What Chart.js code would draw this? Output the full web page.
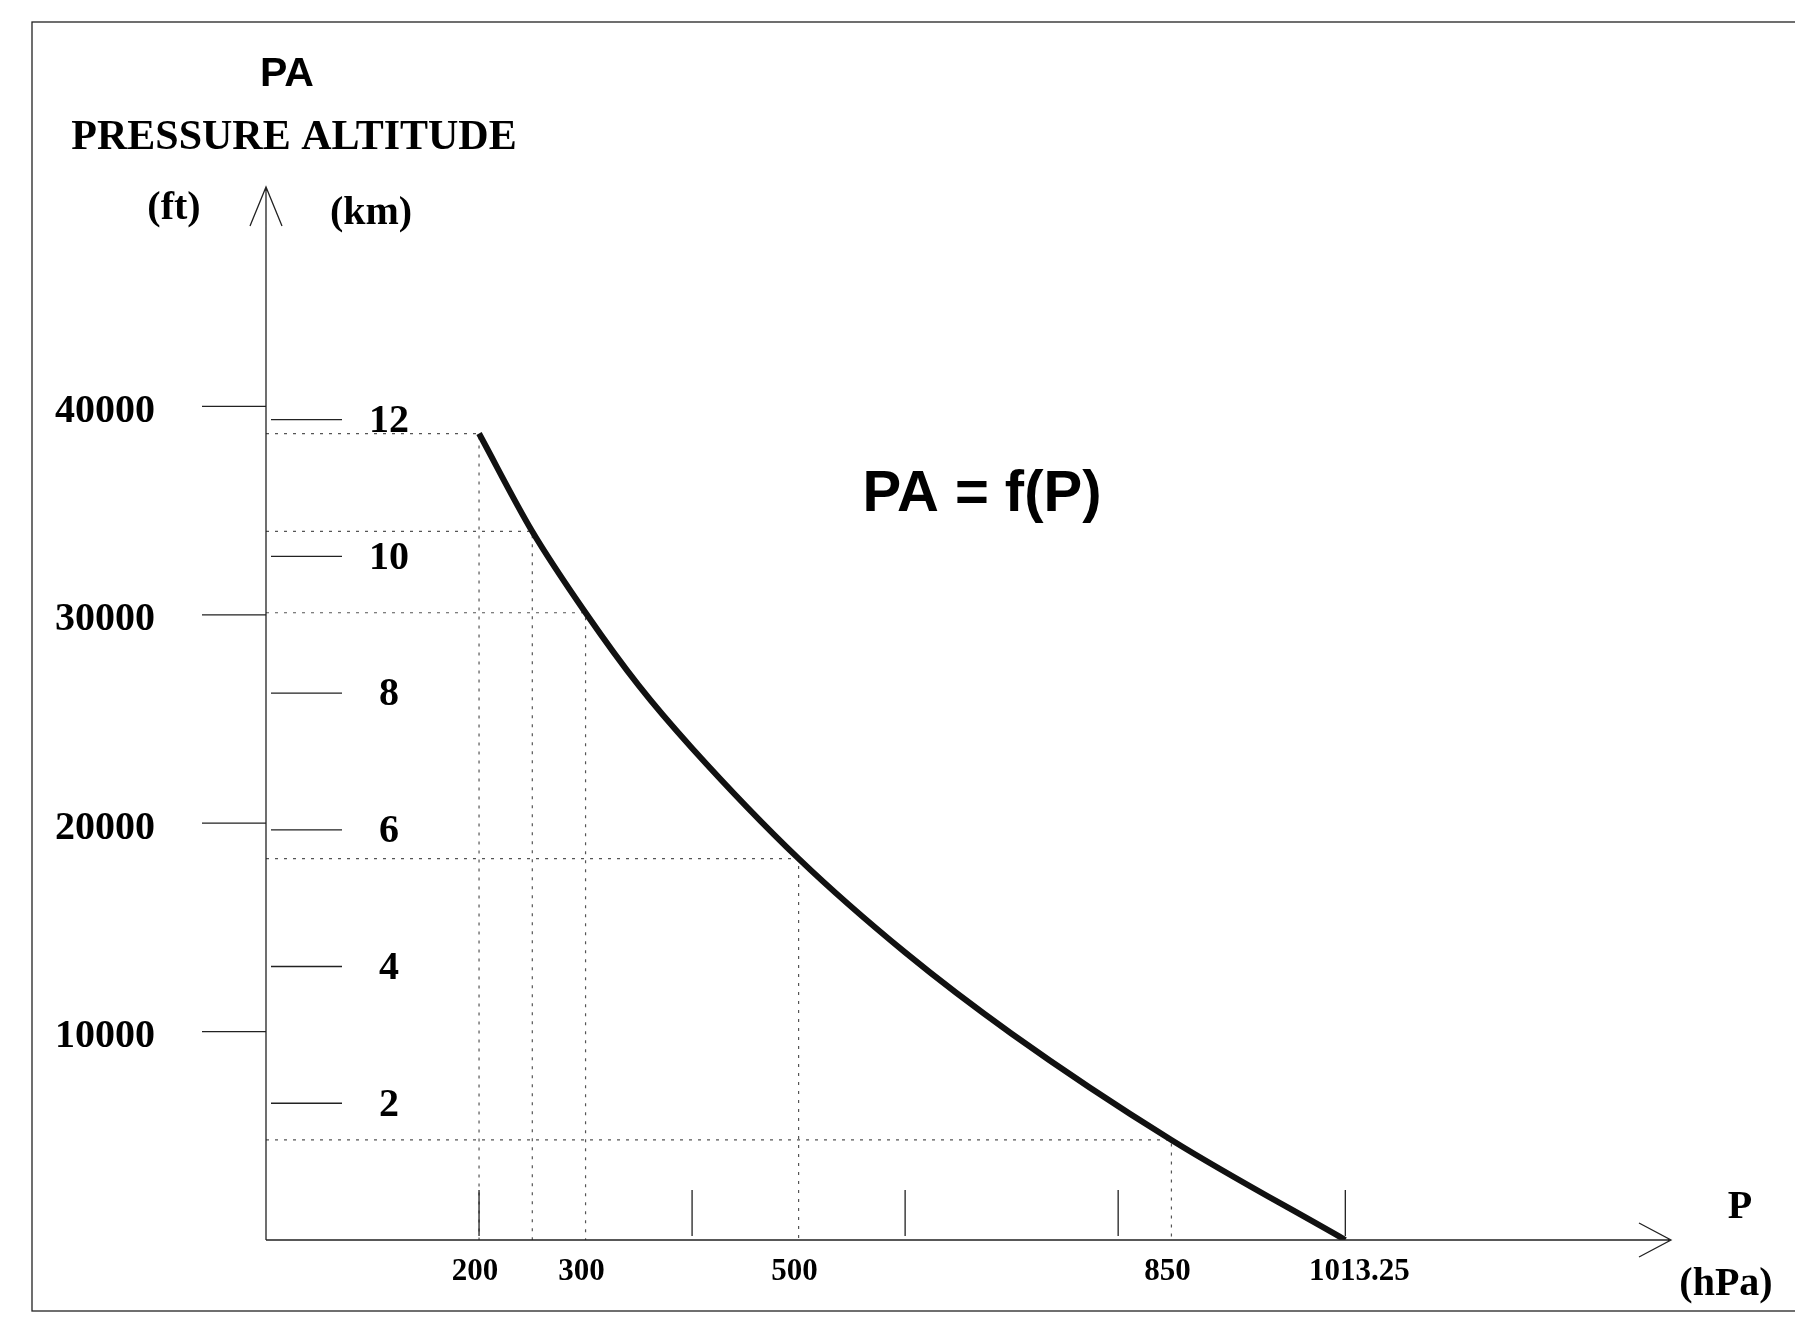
<!DOCTYPE html>
<html>
<head>
<meta charset="utf-8">
<script src="https://cdn.jsdelivr.net/npm/chart.js@4"></script>
<style>
  html, body { margin: 0; padding: 0; background: #fff; }
  #wrap { width: 1795px; height: 1320px; position: relative; }
</style>
</head>
<body>
<div id="wrap"><canvas id="chart" width="1795" height="1320"></canvas></div>
<script>
// --- data ---
const pressureHpa = [200, 250, 300, 350, 400, 500, 600, 700, 850, 1013.25];
const altitudeFt  = [38700, 34000, 30100, 26600, 23600, 18300, 13800, 9900, 4800, 0];

// dashed guides: pressure level + altitude where they meet the curve
const guidePressure = [200, 250, 300, 500, 850];
const guideAltitude = [38700, 34000, 30100, 18300, 4800];

const ftTicks = [10000, 20000, 30000, 40000];
const kmTicks = [2, 4, 6, 8, 10, 12];
const pTicks = [200, 400, 600, 800, 1013.25];
const pLabels = ['200', '300', '500', '850', '1013.25'];
const pLabelValues = [200, 300, 500, 850, 1013.25];

const FT_PER_KM = 3280.84;
const SERIF = '"Liberation Serif", "DejaVu Serif", serif';
const SANS = '"Liberation Sans", Arial, sans-serif';

const guideSets = guidePressure.map((p, i) => ({
    data: [{ x: 0, y: guideAltitude[i] }, { x: p, y: guideAltitude[i] }, { x: p, y: 0 }],
    borderColor: '#555', borderWidth: 1.2, borderDash: [3, 6],
    pointRadius: 0, showLine: true, fill: false, tension: 0
}));

// --- drawing of the hand-made axes, ticks and labels ---
const diagramPlugin = {
    id: 'diagram',
    afterDatasetsDraw(chart) {
        const { ctx, scales: { x, y } } = chart;
        const x0 = x.getPixelForValue(0);
        const y0 = y.getPixelForValue(0);
        const xEnd = x.getPixelForValue(x.max);
        const yTop = y.getPixelForValue(y.max);
        ctx.save();
        ctx.strokeStyle = '#222';
        ctx.fillStyle = '#000';
        ctx.lineWidth = 1.3;

        // frame
        ctx.strokeRect(32, 22, 1795, 1289);

        // axes + open arrows
        ctx.beginPath();
        ctx.moveTo(x0, y0); ctx.lineTo(x0, yTop);
        ctx.moveTo(x0 - 16, yTop + 39); ctx.lineTo(x0, yTop); ctx.lineTo(x0 + 16, yTop + 39);
        ctx.moveTo(x0, y0); ctx.lineTo(xEnd, y0);
        ctx.moveTo(xEnd - 32, y0 - 17); ctx.lineTo(xEnd, y0); ctx.lineTo(xEnd - 32, y0 + 17);
        ctx.stroke();

        // ft ticks (left), km ticks (right)
        ctx.beginPath();
        ftTicks.forEach(v => {
            const py = y.getPixelForValue(v);
            ctx.moveTo(x0 - 64, py); ctx.lineTo(x0, py);
        });
        kmTicks.forEach(v => {
            const py = y.getPixelForValue(v * FT_PER_KM);
            ctx.moveTo(x0 + 5, py); ctx.lineTo(x0 + 76, py);
        });
        pTicks.forEach(v => {
            const px = x.getPixelForValue(v);
            ctx.moveTo(px, y0 - 4); ctx.lineTo(px, y0 - 50);
        });
        ctx.stroke();

        ctx.textAlign = 'center';
        ctx.textBaseline = 'middle';
        ctx.font = `bold 40px ${SERIF}`;
        ftTicks.forEach(v => ctx.fillText(String(v), 105, y.getPixelForValue(v) + 5));
        kmTicks.forEach(v => ctx.fillText(String(v), 389, y.getPixelForValue(v * FT_PER_KM) + 2));

        ctx.font = `bold 31px ${SERIF}`;
        pLabelValues.forEach((v, i) => {
            let px = x.getPixelForValue(v);
            if (v > 1000) px += 18;
            ctx.fillText(pLabels[i], px - 4, y0 + 32);
        });

        // titles
        ctx.font = `bold 41px ${SANS}`;
        ctx.fillText('PA', 287, 75);
        ctx.font = `bold 42px ${SERIF}`;
        ctx.fillText('PRESSURE ALTITUDE', 294, 138);
        ctx.font = `bold 40px ${SERIF}`;
        ctx.fillText('(ft)', 174, 209);
        ctx.fillText('(km)', 371, 214);
        ctx.fillText('P', 1740, 1208);
        ctx.fillText('(hPa)', 1726, 1285);
        ctx.font = `bold 58px ${SANS}`;
        ctx.fillText('PA = f(P)', 982, 495);
        ctx.restore();
    }
};

new Chart(document.getElementById('chart'), {
    type: 'scatter',
    data: {
        datasets: [
            {
                data: pressureHpa.map((p, i) => ({ x: p, y: altitudeFt[i] })),
                borderColor: '#111', borderWidth: 6, pointRadius: 0,
                showLine: true, fill: false, cubicInterpolationMode: 'monotone'
            },
            ...guideSets
        ]
    },
    options: {
        responsive: false, animation: false,
        layout: { padding: { left: 266, right: 124, top: 187, bottom: 80 } },
        plugins: { legend: { display: false }, tooltip: { enabled: false } },
        scales: {
            x: { type: 'linear', min: 0, max: 1319, display: false },
            y: { type: 'linear', min: 0, max: 50530, display: false }
        }
    },
    plugins: [diagramPlugin]
});
</script>
</body>
</html>
